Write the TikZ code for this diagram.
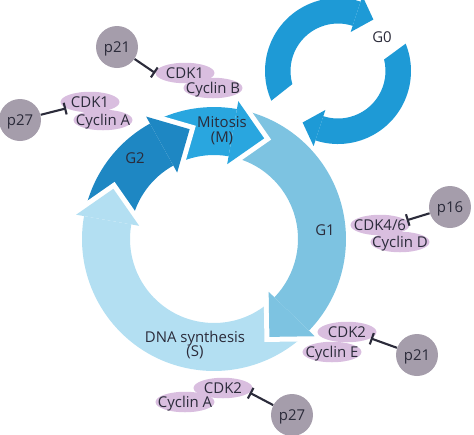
\documentclass[tikz,border=0pt]{standalone}
\usepackage{fontspec}
\setmainfont{Open Sans}
\usepackage{tikz}
\usetikzlibrary{shapes.geometric}
\usetikzlibrary{arrows.meta}

\definecolor{gtwo}{HTML}{1E87C3}
\definecolor{mit}{HTML}{29A6DF}
\definecolor{gone}{HTML}{7DC3E1}
\definecolor{sph}{HTML}{B3DFF2}
\definecolor{gzero}{HTML}{1E9AD6}
\definecolor{cdk}{HTML}{D9BEDF}
\definecolor{pgray}{HTML}{A59DAB}
\definecolor{txt}{HTML}{2B2B3A}

\begin{document}
\begin{tikzpicture}[x=0.02cm,y=-0.02cm,
  every node/.style={font=\fontsize{8.5}{8.5}\selectfont,text=txt},
  oval/.style={ellipse,fill=cdk,inner sep=0pt,minimum width=1.18cm,minimum height=0.41cm,text height=6pt,text depth=0pt},
  pcirc/.style={circle,fill=pgray,inner sep=0pt,minimum size=0.84cm,text height=6pt,text depth=0pt},
  inhib/.style={-{Bar[width=0.24cm]},line width=1.2pt,draw=txt},
  headgap/.style={white,line width=0.2cm,line join=miter}]
  \useasboundingbox (0,0) rectangle (474,434);

  % G0 loop
  \begin{scope}[shift={(338,71)}]
    \fill[gzero] (196:0.95cm) arc[start angle=196,end angle=72,radius=0.95cm] -- (72:1.46cm) arc[start angle=72,end angle=204,radius=1.46cm] -- cycle;
    \fill[gzero] (72:0.82cm) -- (55.5:1.25cm) -- (72:1.58cm) -- cycle;
    \fill[gzero] (14:0.95cm) arc[start angle=14,end angle=-108,radius=0.95cm] -- (-108:1.46cm) arc[start angle=-108,end angle=22,radius=1.46cm] -- cycle;
    \fill[gzero] (-108:0.82cm) -- (-124.5:1.25cm) -- (-108:1.58cm) -- cycle;
  \end{scope}
  \node (g0) at (382,37) {G0};

  % main cycle, bodies first
  \begin{scope}[shift={(214,239)}]
    \fill[gtwo] (168:1.68cm) arc[start angle=168,end angle=119,radius=1.68cm] -- (119:2.64cm) arc[start angle=119,end angle=168,radius=2.64cm] -- cycle;
    \fill[mit] (117:1.68cm) arc[start angle=117,end angle=80,radius=1.68cm] -- (80:2.64cm) arc[start angle=80,end angle=117,radius=2.64cm] -- cycle;
    \fill[gone] (78:1.68cm) arc[start angle=78,end angle=-44,radius=1.68cm] -- (-44:2.64cm) arc[start angle=-44,end angle=78,radius=2.64cm] -- cycle;
    \fill[sph] (314:1.68cm) arc[start angle=314,end angle=170,radius=1.68cm] -- (170:2.64cm) arc[start angle=170,end angle=314,radius=2.64cm] -- cycle;
    % heads on top
    \draw[headgap] (119:1.52cm) -- (102.5:2.25cm) -- (119:2.80cm);
    \fill[gtwo] (119:1.52cm) -- (102.5:2.25cm) -- (119:2.80cm) -- cycle;
    \draw[headgap] (80:1.52cm) -- (63.5:2.25cm) -- (80:2.80cm);
    \fill[mit] (80:1.52cm) -- (63.5:2.25cm) -- (80:2.80cm) -- cycle;
    \draw[headgap] (-44:1.52cm) -- (-60.5:2.25cm) -- (-44:2.80cm);
    \fill[gone] (-44:1.52cm) -- (-60.5:2.25cm) -- (-44:2.80cm) -- cycle;
    \draw[headgap] (170:1.52cm) -- (153.5:2.25cm) -- (170:2.80cm);
    \fill[sph] (170:1.52cm) -- (153.5:2.25cm) -- (170:2.80cm) -- cycle;
  \end{scope}

  \node (g2) at (135,158) {G2};
  \node (m) at (222,131) [align=center] {Mitosis\\(M)};
  \node (g1) at (325,230) {G1};
  \node (s) at (195,345) [align=center] {DNA synthesis\\(S)};

  % complexes and inhibitors
  \node (cdk1a) at (185,73) [oval] {\makebox[0pt]{CDK1}};
  \node (cycb) at (213,88) [oval] {\makebox[0pt]{Cyclin B}};
  \node (p21a) at (117,47) [pcirc] {p21};

  \node (cdk1b) at (90,102) [oval] {\makebox[0pt]{CDK1}};
  \node (cyca) at (103,120) [oval] {\makebox[0pt]{Cyclin A}};
  \node (p27a) at (20,120) [pcirc] {p27};

  \node (cdk46) at (380,225) [oval] {\makebox[0pt]{CDK4/6}};
  \node (cycd) at (400,242) [oval] {\makebox[0pt]{Cyclin D}};
  \node (p16) at (450,207) [pcirc] {p16};

  \node (cdk2a) at (347,332) [oval] {\makebox[0pt]{CDK2}};
  \node (cyce) at (332,352) [oval] {\makebox[0pt]{Cyclin E}};
  \node (p21b) at (417,355) [pcirc] {p21};

  \node (cdk2b) at (223,388) [oval] {\makebox[0pt]{CDK2}};
  \node (cycab) at (185,402) [oval] {\makebox[0pt]{Cyclin A}};
  \node (p27b) at (292,415) [pcirc] {p27};

  \draw[inhib](p21a)--(cdk1a.west);
  \draw[inhib](p27a)--(cdk1b.195);
  \draw[inhib](p16)--(cdk46.10);
  \draw[inhib](p21b)--(cdk2a.-15);
  \draw[inhib](p27b)--(cdk2b.-10);
\end{tikzpicture}
\end{document}
